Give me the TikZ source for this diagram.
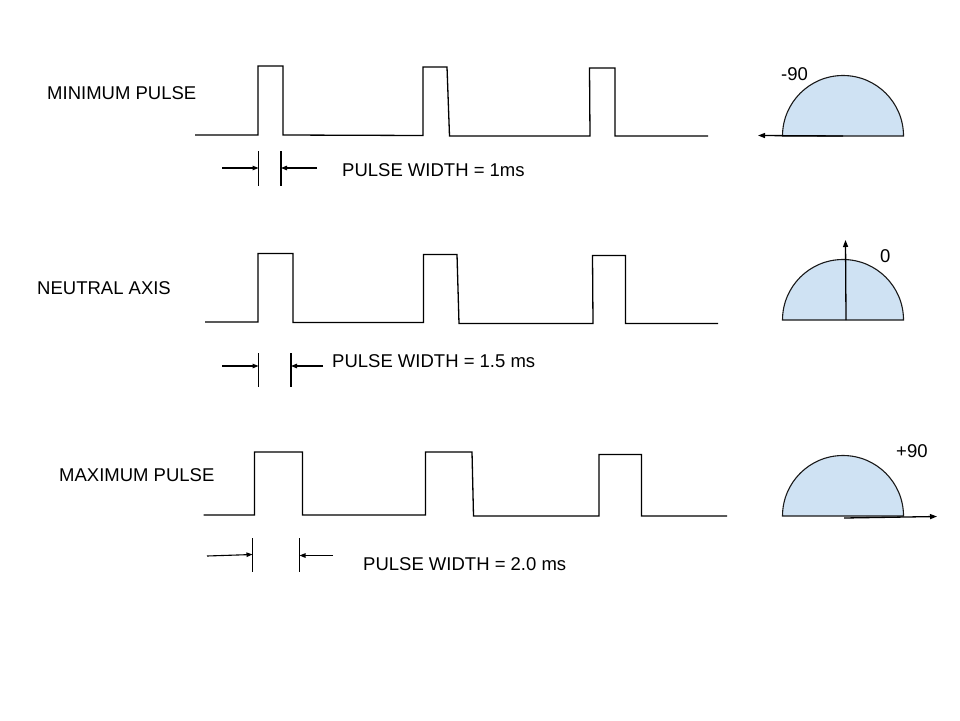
\documentclass[tikz,border=0pt]{standalone}
\usepackage{fontspec}
\setmainfont{Liberation Sans}
\usetikzlibrary{arrows.meta}
\definecolor{semifill}{HTML}{CFE2F3}
\definecolor{inkc}{HTML}{1A1A1A}
\tikzset{
  lbl/.style={anchor=west,inner sep=0pt,font=\fontsize{18.5}{22}\selectfont,text=black},
  wave/.style={draw=black,line width=1.3pt,line join=miter},
  dimline/.style={draw=black,line width=1.1pt},
  dimarrow/.style={draw=black,line width=1.1pt,-{Triangle[length=6pt,width=4.5pt]}},
  semi/.style={draw=inkc,line width=1.1pt,fill=semifill},
  pointer/.style={draw=black,line width=1.3pt,-{Triangle[length=7pt,width=5pt]}}
}
\begin{document}
\begin{tikzpicture}[x=1pt,y=-1pt]
\useasboundingbox (0,0) rectangle (960,720);
\fill[white] (0,0) rectangle (960,720);

% ---------- labels ----------
\node[lbl] (minlbl) at (47,93.5) {MINIMUM PULSE};
\node[lbl] (neulbl) at (37,288) {NEUTRAL AXIS};
\node[lbl] (maxlbl) at (59,475.5) {MAXIMUM PULSE};
\node[lbl] (pw1) at (342,170.5) {PULSE WIDTH = 1ms};
\node[lbl] (pw2) at (332,361) {PULSE WIDTH = 1.5 ms};
\node[lbl] (pw3) at (363,564) {PULSE WIDTH = 2.0 ms};
\node[lbl] (a1) at (781,74) {-90};
\node[lbl] (a2) at (880,256) {0};
\node[lbl] (a3) at (896,451) {+90};

% ---------- pulse trains ----------
\draw[wave] (195,135) -- (258,135) -- (258,66) -- (283,66) -- (283,135)
  -- (423,135.5) -- (423,67) -- (447,67) -- (449.5,136) -- (590,136)
  -- (589.5,68) -- (615,68) -- (615,136) -- (708,136);
\draw[wave] (205,322) -- (258,322) -- (258,253.5) -- (293,253.5) -- (293,322.5)
  -- (423.5,322.5) -- (423.5,254.5) -- (457,254.5) -- (459,323.5) -- (593,323.5)
  -- (592.5,255.5) -- (625.5,255.5) -- (625.5,323.5) -- (718,323.5);
\draw[wave] (203.5,515) -- (254.5,515) -- (254.5,452) -- (302.5,452) -- (302.5,515)
  -- (425.5,515) -- (425.5,452) -- (472,452) -- (473.5,516) -- (599,516)
  -- (599,454.5) -- (641.5,454.5) -- (641.5,516) -- (727,516);

% ---------- pulse width dimensions ----------
\coordinate (d1lt) at (258.5,151); \coordinate (d1lb) at (258.5,186);
\coordinate (d1rt) at (281,151);   \coordinate (d1rb) at (281,186);
\coordinate (d1la) at (222,168);   \coordinate (d1le) at (258.5,168);
\coordinate (d1ra) at (317,168);   \coordinate (d1re) at (281,168);
\draw[dimline] (d1lt) -- (d1lb);
\draw[dimline] (d1rt) -- (d1rb);
\draw[dimarrow] (d1la) -- (d1le);
\draw[dimarrow] (d1ra) -- (d1re);

\coordinate (d2lt) at (258.5,353); \coordinate (d2lb) at (258.5,387);
\coordinate (d2rt) at (291,353);   \coordinate (d2rb) at (291,387);
\coordinate (d2la) at (222,366);   \coordinate (d2le) at (258.5,366);
\coordinate (d2ra) at (323,366);   \coordinate (d2re) at (291,366);
\draw[dimline] (d2lt) -- (d2lb);
\draw[dimline] (d2rt) -- (d2rb);
\draw[dimarrow] (d2la) -- (d2le);
\draw[dimarrow] (d2ra) -- (d2re);

\coordinate (d3lt) at (252.5,538); \coordinate (d3lb) at (252.5,572);
\coordinate (d3rt) at (299.5,538); \coordinate (d3rb) at (299.5,572);
\coordinate (d3la) at (207,556);   \coordinate (d3le) at (252.5,554.5);
\coordinate (d3ra) at (333,555.5); \coordinate (d3re) at (299.5,555.5);
\draw[dimline] (d3lt) -- (d3lb);
\draw[dimline] (d3rt) -- (d3rb);
\draw[dimarrow] (d3la) -- (d3le);
\draw[dimarrow] (d3ra) -- (d3re);

% ---------- servo semicircles ----------
\draw[semi] (782.5,136) arc[start angle=180,end angle=0,radius=60.5pt] -- cycle;
\draw[semi] (782.5,320) arc[start angle=180,end angle=0,radius=60.5pt] -- cycle;
\draw[semi] (782.5,516) arc[start angle=180,end angle=0,radius=60.5pt] -- cycle;

\coordinate (c1) at (843,136);   \coordinate (p1) at (758,135.5);
\coordinate (c2) at (846,320);   \coordinate (p2) at (845.5,240);
\coordinate (c3) at (844,518);   \coordinate (p3) at (937,516.5);
\draw[pointer] (c1) -- (p1);
\draw[pointer] (c2) -- (p2);
\draw[pointer] (c3) -- (p3);
\end{tikzpicture}
\end{document}
